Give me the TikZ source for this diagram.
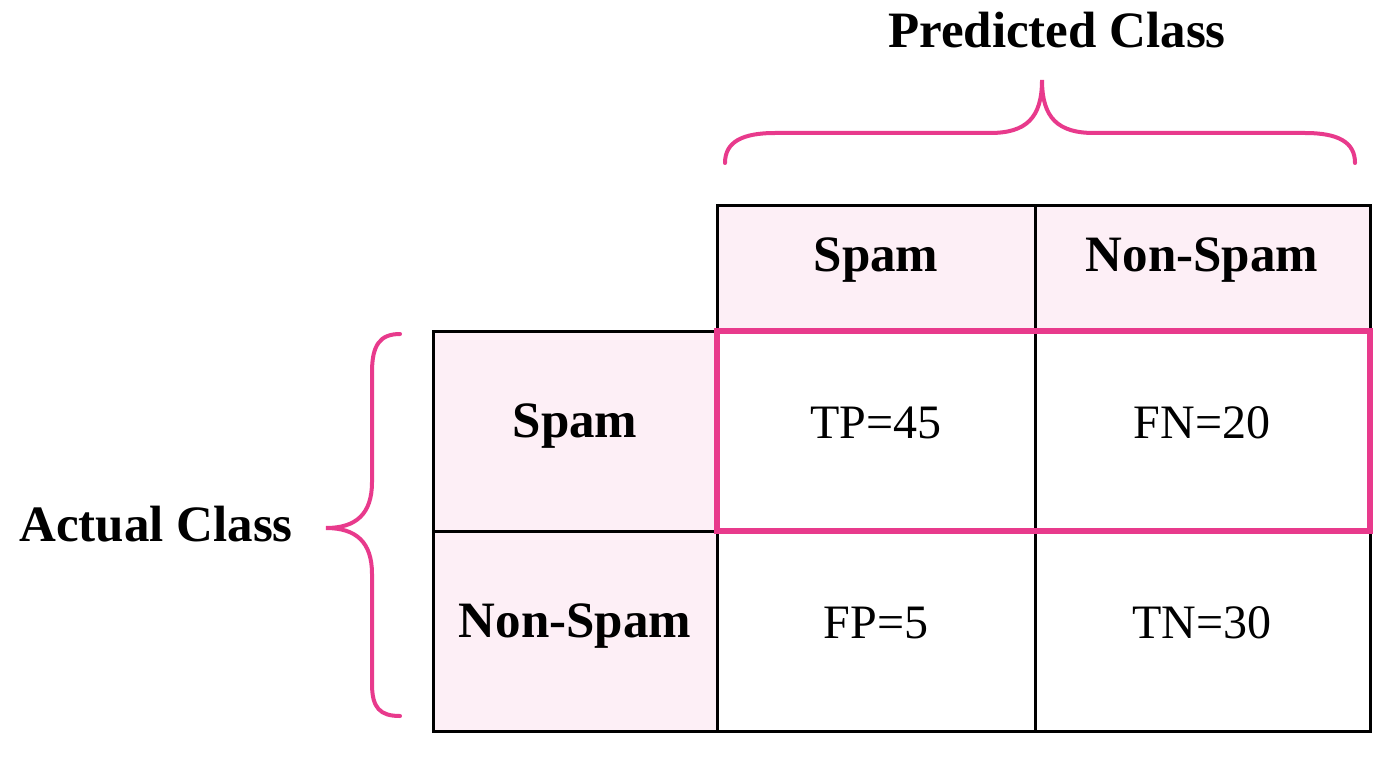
\documentclass[tikz,border=0pt]{standalone}
\usepackage{fontspec}
\setmainfont{Liberation Serif}
\definecolor{pinkline}{RGB}{232,58,140}
\definecolor{cellpink}{RGB}{253,239,246}
\begin{document}
\begin{tikzpicture}[x=0.5pt,y=-0.5pt,
  cell/.style={draw=black, line width=1.5pt, inner sep=0pt, outer sep=0pt, anchor=north west},
  pcell/.style={cell, fill=cellpink},
  wcell/.style={cell, fill=white},
  hl/.style={draw=pinkline, line width=3pt},
  brace/.style={draw=pinkline, line width=2pt, line cap=round},
  bold/.style={font=\fontsize{25.5}{28}\selectfont\bfseries, anchor=base, inner sep=0pt},
  val/.style={font=\fontsize{24}{28}\selectfont, anchor=base, inner sep=0pt}]
\useasboundingbox (0,0) rectangle (1400,759);
% header cells
\node[pcell, minimum width=159pt, minimum height=63pt] (hs) at (717,205) {};
\node[pcell, minimum width=167.5pt, minimum height=63pt] (hn) at (1035,205) {};
% row header cells
\node[pcell, minimum width=142pt, minimum height=100pt] (rs) at (433,331) {};
\node[pcell, minimum width=142pt, minimum height=100pt] (rn) at (433,531) {};
% value cells
\node[wcell, minimum width=159pt, minimum height=100pt] (tp) at (717,331) {};
\node[wcell, minimum width=167.5pt, minimum height=100pt] (fn) at (1035,331) {};
\node[wcell, minimum width=159pt, minimum height=100pt] (fp) at (717,531) {};
\node[wcell, minimum width=167.5pt, minimum height=100pt] (tn) at (1035,531) {};
% highlight
\draw[hl] (tp.north west) rectangle (fn.south east);
% texts
\node[bold] (pc) at (1057,48) {Predicted Class};
\node[bold] (ac) at (156,541) {Actual Class};
\node[bold] (ths) at (876,271) {Spam};
\node[bold] (thn) at (1202,271) {Non-Spam};
\node[bold] (tls) at (575,437) {Spam};
\node[bold] (tln) at (575,637) {Non-Spam};
\node[val] (ttp) at (876,438) {TP=45};
\node[val] (tfn) at (1202,438) {FN=20};
\node[val] (tfp) at (876,638) {FP=5};
\node[val] (ttn) at (1202,638) {TN=30};
% braces
\draw[brace] (725,163) .. controls (725,142) and (742,133) .. (775,133) -- (990,133)
  .. controls (1026,133) and (1042,118) .. (1042,80)
  .. controls (1042,118) and (1058,133) .. (1094,133) -- (1305,133)
  .. controls (1338,133) and (1355,142) .. (1355,163);
\draw[brace] (400,334) .. controls (380,334) and (372,345) .. (372,372) -- (372,482)
  .. controls (372,514) and (356,528) .. (326,528)
  .. controls (356,528) and (372,542) .. (372,574) -- (372,684)
  .. controls (372,708) and (380,716) .. (400,716);
\end{tikzpicture}
\end{document}
